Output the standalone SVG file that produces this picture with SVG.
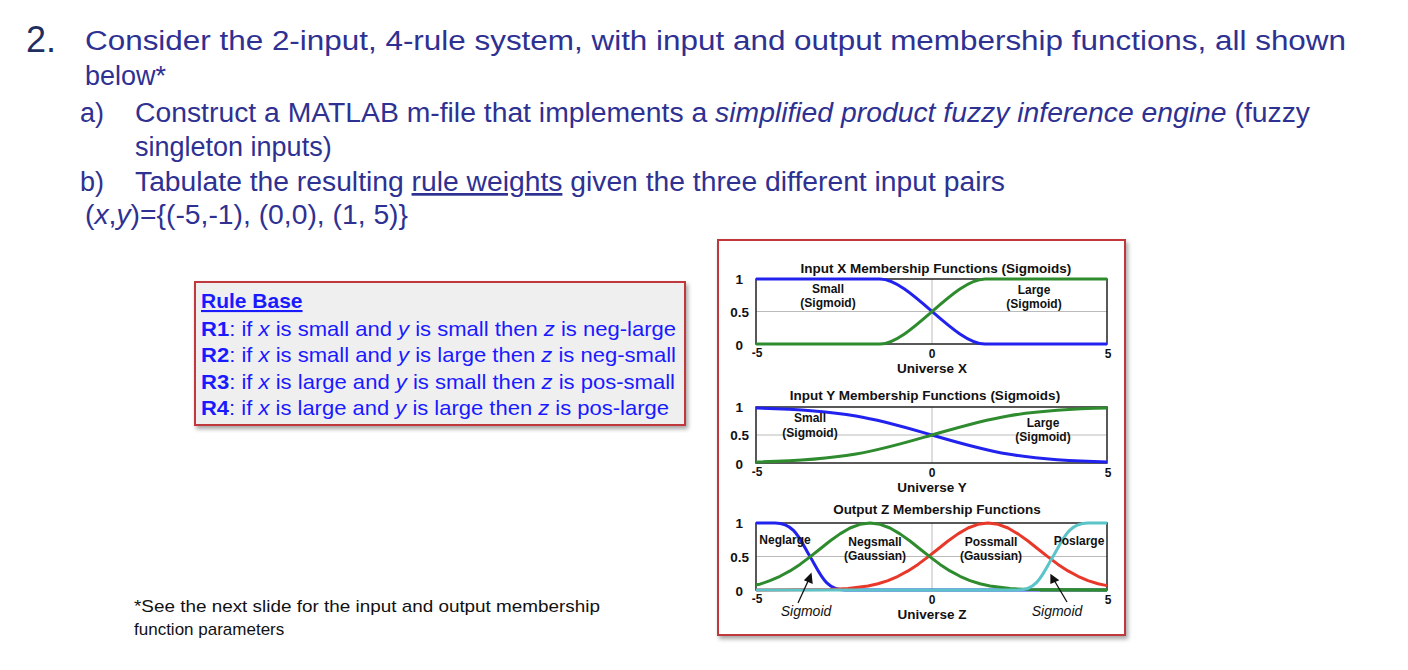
<svg xmlns="http://www.w3.org/2000/svg" width="1408" height="670" viewBox="0 0 1408 670">
<defs>
<style>
.m{font-family:"Liberation Sans",Arial,sans-serif;font-size:27px;fill:#2e3192}
.r{font-family:"Liberation Sans",Arial,sans-serif;font-size:21px;fill:#1a1aff}
.b{font-weight:bold}
.pl{font-family:"Liberation Sans",Arial,sans-serif;font-size:13.5px;font-weight:bold;fill:#111}
.z{font-family:"Liberation Sans",Arial,sans-serif;font-size:12px;font-weight:bold;fill:#111;text-anchor:middle}
.sl{font-family:"Liberation Sans",Arial,sans-serif;font-size:12px;font-weight:bold;fill:#111;text-anchor:middle}
.c{fill:none;stroke-width:3;stroke-linejoin:round}
.grid{stroke:#bbb;stroke-width:1}
.box{fill:none;stroke:#222;stroke-width:1.5}
</style>
<filter id="sh" x="-5%" y="-5%" width="110%" height="110%"><feDropShadow dx="2" dy="3" stdDeviation="2" flood-color="#000" flood-opacity="0.35"/></filter>
</defs>
<rect width="1408" height="670" fill="#fff"/>
<g id="question">
<text x="26" y="52" font-family="Liberation Sans,Arial,sans-serif" font-size="36" fill="#1f2f5f">2.</text>
<text class="m" x="85" y="50" textLength="1261" lengthAdjust="spacingAndGlyphs">Consider the 2-input, 4-rule system, with input and output membership functions, all shown</text>
<text class="m" x="85" y="85">below*</text>
<text class="m" x="80" y="122">a)</text>
<text class="m" x="135" y="122" textLength="1175" lengthAdjust="spacingAndGlyphs">Construct a MATLAB m-file that implements a <tspan font-style="italic">simplified product fuzzy inference engine</tspan> (fuzzy</text>
<text class="m" x="135" y="156">singleton inputs)</text>
<text class="m" x="80" y="191">b)</text>
<text class="m" x="135" y="191" textLength="870" lengthAdjust="spacingAndGlyphs">Tabulate the resulting <tspan text-decoration="underline">rule weights</tspan> given the three different input pairs</text>
<text class="m" x="85" y="224" textLength="323" lengthAdjust="spacingAndGlyphs">(<tspan font-style="italic">x</tspan>,<tspan font-style="italic">y</tspan>)={(-5,-1), (0,0), (1, 5)}</text>
</g>
<g id="rulebase">
<rect x="195" y="282" width="490" height="143" fill="#efefef" stroke="#c0393b" stroke-width="2" filter="url(#sh)"/>
<text class="r b" x="201" y="308" text-decoration="underline">Rule Base</text>
<text class="r" x="201" y="336" textLength="475" lengthAdjust="spacingAndGlyphs"><tspan class="b">R1</tspan>: if <tspan font-style="italic">x</tspan> is small and <tspan font-style="italic">y</tspan> is small then <tspan font-style="italic">z</tspan> is neg-large</text>
<text class="r" x="201" y="362" textLength="475" lengthAdjust="spacingAndGlyphs"><tspan class="b">R2</tspan>: if <tspan font-style="italic">x</tspan> is small and <tspan font-style="italic">y</tspan> is large then <tspan font-style="italic">z</tspan> is neg-small</text>
<text class="r" x="201" y="389" textLength="474" lengthAdjust="spacingAndGlyphs"><tspan class="b">R3</tspan>: if <tspan font-style="italic">x</tspan> is large and <tspan font-style="italic">y</tspan> is small then <tspan font-style="italic">z</tspan> is pos-small</text>
<text class="r" x="201" y="415" textLength="468" lengthAdjust="spacingAndGlyphs"><tspan class="b">R4</tspan>: if <tspan font-style="italic">x</tspan> is large and <tspan font-style="italic">y</tspan> is large then <tspan font-style="italic">z</tspan> is pos-large</text>
</g>
<g id="footnote">
<text x="134" y="612" font-family="Liberation Sans,Arial,sans-serif" font-size="17" fill="#111" textLength="466" lengthAdjust="spacingAndGlyphs">*See the next slide for the input and output membership</text>
<text x="134" y="635" font-family="Liberation Sans,Arial,sans-serif" font-size="17" fill="#111">function parameters</text>
</g>
<g id="plots">
<rect x="718" y="240" width="407" height="395" fill="#fff" stroke="#c0393b" stroke-width="2" filter="url(#sh)"/>
<g id="plotX">
<text class="pl" x="936" y="273" text-anchor="middle">Input X Membership Functions (Sigmoids)</text>
<line class="grid" x1="756" y1="311.5" x2="1107" y2="311.5"/>
<line class="grid" x1="932" y1="279" x2="932" y2="344"/>
<rect class="box" x="756" y="279" width="351" height="65"/>
<path class="c" stroke="#2222ee" d="M756,279 L880,279 C910,279 954,344 985,344 L1107,344"/>
<path class="c" stroke="#2e8b2e" d="M756,344 L880,344 C910,344 954,279 985,279 L1107,279"/>
<text class="sl" x="828" y="293">Small</text><text class="sl" x="828" y="307">(Sigmoid)</text>
<text class="sl" x="1034" y="294">Large</text><text class="sl" x="1034" y="308">(Sigmoid)</text>
<text class="pl" x="743" y="284" text-anchor="end">1</text>
<text class="pl" x="749" y="317" text-anchor="end">0.5</text>
<text class="pl" x="743" y="350" text-anchor="end">0</text>
<text class="z" x="757" y="357">-5</text>
<text class="z" x="932" y="358">0</text>
<text class="z" x="1108" y="358">5</text>
<text class="pl" x="932" y="373" text-anchor="middle">Universe X</text>
</g>
<g id="plotY">
<text class="pl" x="925" y="400" text-anchor="middle">Input Y Membership Functions (Sigmoids)</text>
<line class="grid" x1="756" y1="435" x2="1107" y2="435"/>
<line class="grid" x1="932" y1="407" x2="932" y2="463"/>
<rect class="box" x="756" y="407" width="351" height="56"/>
<path class="c" stroke="#2222ee" d="M756,408 C850,410 880,420 932,435 C984,450 1014,460 1107,462"/>
<path class="c" stroke="#2e8b2e" d="M756,462 C850,460 880,450 932,435 C984,420 1014,410 1107,408"/>
<text class="sl" x="810" y="422">Small</text><text class="sl" x="810" y="437">(Sigmoid)</text>
<text class="sl" x="1043" y="427">Large</text><text class="sl" x="1043" y="441">(Sigmoid)</text>
<text class="pl" x="743" y="412" text-anchor="end">1</text>
<text class="pl" x="749" y="440" text-anchor="end">0.5</text>
<text class="pl" x="743" y="469" text-anchor="end">0</text>
<text class="z" x="757" y="476">-5</text>
<text class="z" x="932" y="477">0</text>
<text class="z" x="1108" y="477">5</text>
<text class="pl" x="932" y="492" text-anchor="middle">Universe Y</text>
</g>
<g id="plotZ">
<text class="pl" x="937" y="514" text-anchor="middle">Output Z Membership Functions</text>
<line class="grid" x1="756" y1="556.5" x2="1107" y2="556.5"/>
<line class="grid" x1="932" y1="523" x2="932" y2="590"/>
<rect class="box" x="756" y="523" width="351" height="67"/>
<path class="c" stroke="#2222ee" d="M756,523 L775,523 C795,523 800,540 810,556.5 C820,573 825,590 845,590 L1107,590"/>
<path class="c" stroke="#e8382a" d="M756,590 L830,589.6 848,588.6 868,586 878,583.8 888,580.6 898,576.3 908,570.9 918,564.4 928,556.9 938,549 948,541 958,533.9 968,528 978,524.3 988,523 998,524.3 1008,528 1018,533.9 1028,541 1038,549 1048,556.9 1058,564.4 1068,570.9 1078,576.3 1088,580.6 1098,583.8 1107,585.6"/>
<path class="c" stroke="#2e8b2e" d="M756,584.8 L760,584.2 770,580.6 780,576.3 790,570.9 800,564.4 810,556.9 820,549 830,541 840,533.9 850,528 860,524.3 870,523 880,524.3 890,528 900,533.9 910,541 920,549 930,556.9 940,564.4 950,570.9 960,576.3 970,580.6 980,583.8 990,586 1010,588.6 1030,589.6 1107,590"/>
<path class="c" stroke="#5bc4c8" d="M756,590 L1018,590 C1038,590 1043,573 1053,556.5 C1063,540 1068,523 1088,523 L1107,523"/>
<line x1="1040" y1="590" x2="1107" y2="590" stroke="#2e8b2e" stroke-width="3"/>
<text class="sl" x="785" y="544">Neglarge</text>
<text class="sl" x="875" y="546">Negsmall</text><text class="sl" x="875" y="560">(Gaussian)</text>
<text class="sl" x="991" y="546">Possmall</text><text class="sl" x="991" y="560">(Gaussian)</text>
<text class="sl" x="1079" y="545">Poslarge</text>
<text class="pl" x="743" y="528" text-anchor="end">1</text>
<text class="pl" x="749" y="562" text-anchor="end">0.5</text>
<text class="pl" x="743" y="596" text-anchor="end">0</text>
<text class="z" x="757" y="603">-5</text>
<text class="z" x="932" y="604">0</text>
<text class="z" x="1108" y="604">5</text>
<text class="pl" x="932" y="619" text-anchor="middle">Universe Z</text>
<text x="806" y="616" font-family="Liberation Sans,Arial,sans-serif" font-size="14" font-style="italic" fill="#111" text-anchor="middle">Sigmoid</text>
<text x="1057" y="616" font-family="Liberation Sans,Arial,sans-serif" font-size="14" font-style="italic" fill="#111" text-anchor="middle">Sigmoid</text>
</g>
<g id="connectors" stroke="#111" stroke-width="1.3" fill="#111">
<line x1="798" y1="603" x2="809" y2="579"/>
<polygon points="811,574 812,583 805,580"/>
<line x1="1067" y1="602" x2="1054" y2="580"/>
<polygon points="1051,575 1058,580 1051,583"/>
</g>
</g>
</svg>
